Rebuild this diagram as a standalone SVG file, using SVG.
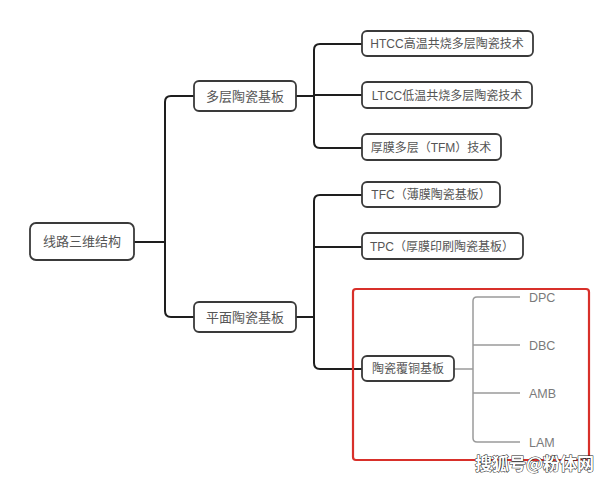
<svg xmlns="http://www.w3.org/2000/svg" width="598" height="481" viewBox="0 0 598 481">
<style>
.box{fill:#fff;stroke:#3a3a3a;stroke-width:1.8}
.t{font-family:"Liberation Sans","Noto Sans CJK SC",sans-serif;fill:#555;font-size:12px}
.t2{font-family:"Liberation Sans","Noto Sans CJK SC",sans-serif;fill:#555;font-size:13px}
.leaf{font-family:"Liberation Sans","Noto Sans CJK SC",sans-serif;fill:#7a7a7a;font-size:12.5px}
.ln{fill:none;stroke:#1e1e1e;stroke-width:2}
.gl{fill:none;stroke:#9a9a9a;stroke-width:1.5}
</style>
<rect width="598" height="481" fill="#fff"/>
<g id="connectors">
<path class="ln" d="M134 242H165"/>
<path class="ln" d="M194 96H171Q165 96 165 102V311Q165 317 171 317H194"/>
<path class="ln" d="M296 96H314"/>
<path class="ln" d="M362 44H320Q314 44 314 50V142Q314 148 320 148H362"/>
<path class="ln" d="M314 95H362"/>
<path class="ln" d="M296 317H314"/>
<path class="ln" d="M362 195H320Q314 195 314 201V363Q314 369 320 369H362"/>
<path class="ln" d="M314 247H362"/>
<path class="gl" d="M454 369H473"/>
<path class="gl" d="M520 297H477Q473 297 473 301V438Q473 442 477 442H520"/>
<path class="gl" d="M473 345H520"/>
<path class="gl" d="M473 393H520"/>
</g>
<g id="root"><rect class="box" x="30" y="223" width="104" height="37" rx="6"/><text class="t2" x="82" y="246" text-anchor="middle">线路三维结构</text></g>
<g id="n1"><rect class="box" x="194" y="81" width="102" height="30" rx="5"/><text class="t2" x="245" y="101" text-anchor="middle">多层陶瓷基板</text></g>
<g id="n2"><rect class="box" x="194" y="302" width="102" height="30" rx="5"/><text class="t2" x="245" y="322" text-anchor="middle">平面陶瓷基板</text></g>
<g id="htcc"><rect class="box" x="362" y="31" width="171" height="25" rx="5"/><text class="t" x="447" y="48" text-anchor="middle">HTCC高温共烧多层陶瓷技术</text></g>
<g id="ltcc"><rect class="box" x="362" y="82" width="170" height="26" rx="5"/><text class="t" x="447" y="100" text-anchor="middle">LTCC低温共烧多层陶瓷技术</text></g>
<g id="tfm"><rect class="box" x="362" y="134" width="139" height="26" rx="5"/><text class="t" x="431" y="152" text-anchor="middle">厚膜多层（TFM）技术</text></g>
<g id="tfc"><rect class="box" x="362" y="182" width="138" height="25" rx="5"/><text class="t" x="431" y="199" text-anchor="middle">TFC（薄膜陶瓷基板）</text></g>
<g id="tpc"><rect class="box" x="362" y="233" width="161" height="26" rx="5"/><text class="t" x="442" y="251" text-anchor="middle">TPC（厚膜印刷陶瓷基板）</text></g>
<g id="dcb"><rect class="box" x="362" y="356" width="92" height="25" rx="5"/><text class="t" x="408" y="373" text-anchor="middle">陶瓷覆铜基板</text></g>
<g id="dpc"><text class="leaf" x="529" y="302">DPC</text></g>
<g id="dbc"><text class="leaf" x="529" y="350">DBC</text></g>
<g id="amb"><text class="leaf" x="529" y="398">AMB</text></g>
<g id="lam"><text class="leaf" x="529" y="447">LAM</text></g>
<g id="highlight"><rect x="353" y="289" width="236" height="171" rx="3" fill="none" stroke="#d8302a" stroke-width="2.2"/></g>
<text x="475" y="470" font-family="'Noto Sans CJK SC',sans-serif" font-size="17" font-weight="bold" fill="#fff" stroke="#222" stroke-width="1" paint-order="stroke">搜狐号@粉体网</text>
</svg>
